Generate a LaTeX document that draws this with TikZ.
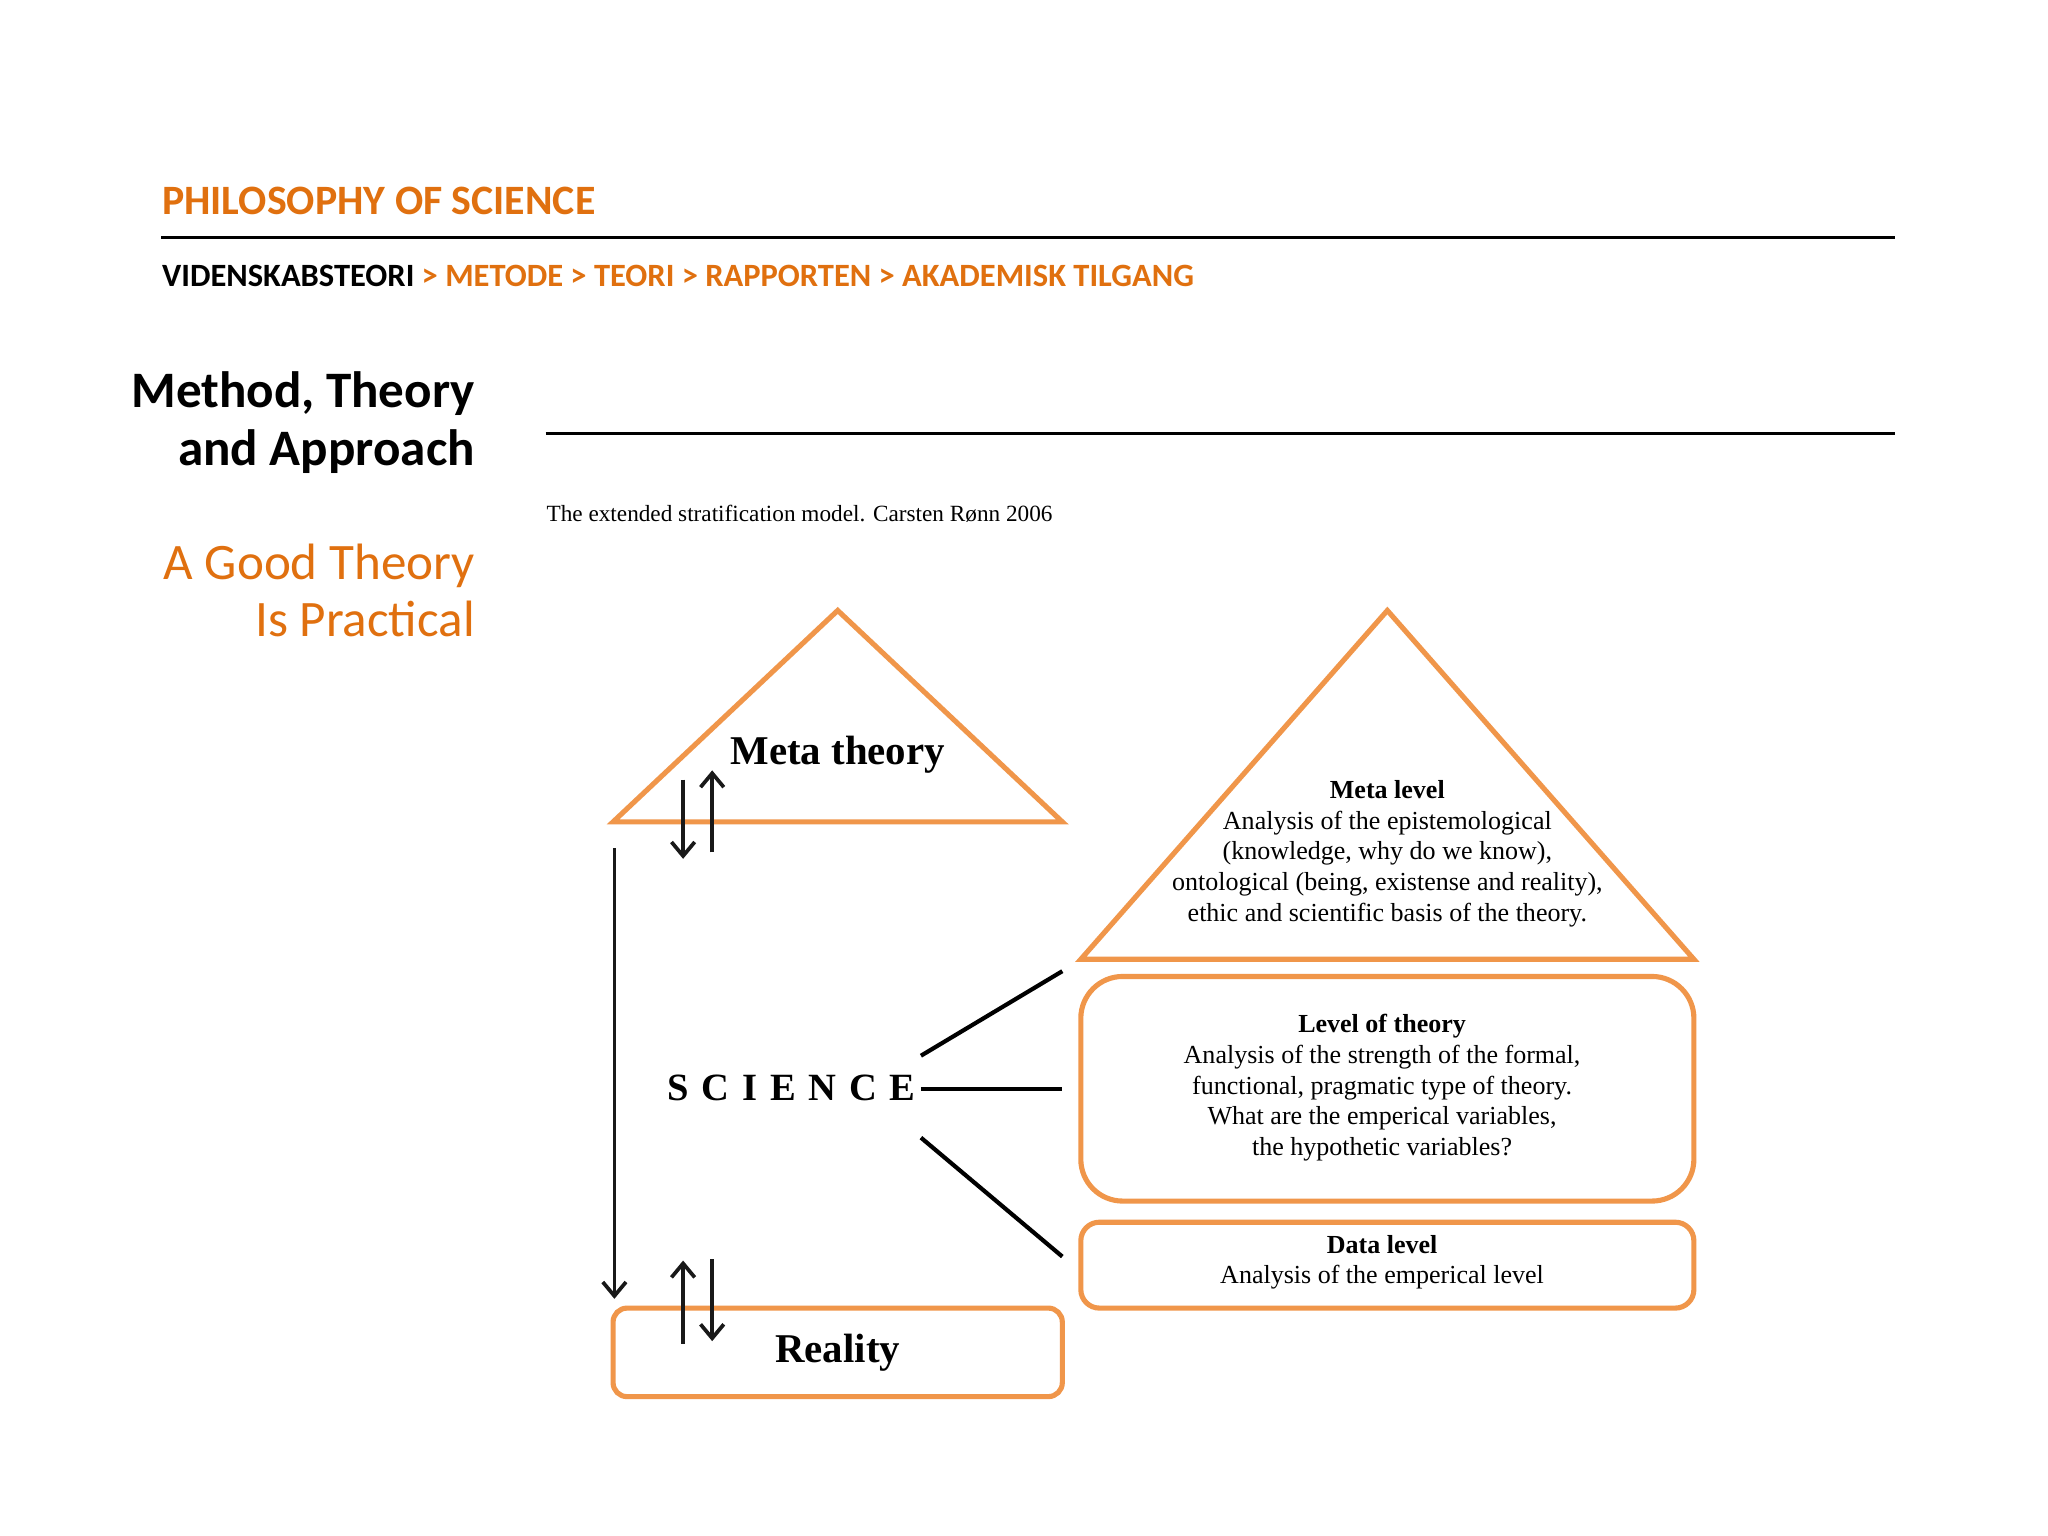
\documentclass[tikz,border=0pt]{standalone}
\usepackage{fontspec}
\usetikzlibrary{arrows.meta}
\setmainfont{Liberation Serif}
\newfontfamily\carlfont{Carlito}
\definecolor{otext}{HTML}{E0700F}
\definecolor{oline}{HTML}{F0964A}
\begin{document}
\begin{tikzpicture}[x=0.01cm,y=-0.01cm,
  shp/.style={draw=oline,line width=1.1pt,line join=miter},
  arr/.style={draw=black!90,line width=0.8pt,-{Straight Barb[length=3pt,width=5pt]}},
  conn/.style={draw=black,line width=0.9pt},
  body/.style={align=center,font=\fontsize{5.6}{6.6}\selectfont,inner sep=0pt}]
\useasboundingbox (0,0) rectangle (1550,1162);
\fill[white] (0,0) rectangle (1550,1162);
% header
\node[anchor=base west,inner sep=0,text=otext,font=\carlfont\bfseries\fontsize{9}{10}\selectfont] (title) at (122,162) {PHILOSOPHY OF SCIENCE};
\draw[line width=0.7pt] (122,180) -- (1434,180);
\node[anchor=base west,inner sep=0,font=\carlfont\bfseries\fontsize{7}{8}\selectfont] (crumb) at (122,217) {VIDENSKABSTEORI \textcolor{otext}{> METODE > TEORI > RAPPORTEN > AKADEMISK TILGANG}};
\draw[line width=0.7pt] (413,328) -- (1434,328);
\node[anchor=base east,inner sep=0,align=right,font=\carlfont\bfseries\fontsize{11}{12.4}\selectfont] (mta) at (360,352) {Method, Theory\\and Approach};
\node[anchor=base east,inner sep=0,align=right,text=otext,font=\carlfont\fontsize{11}{12.4}\selectfont] (gt) at (360,482) {A Good Theory\\Is Practical};
\node[anchor=base west,inner sep=0,font=\fontsize{5}{6}\selectfont] (cap) at (413,395) {The extended stratification model. Carsten Rønn 2006};
% left triangle
\draw[shp] (634,462) -- (804,622) -- (464,622) -- cycle;
\node[font=\bfseries\fontsize{8.8}{10}\selectfont,inner sep=0] (meta) at (634,571) {Meta theory};
% reality
\draw[shp,rounded corners=3pt] (464,990) rectangle (804,1057);
\node[font=\bfseries\fontsize{8.8}{10}\selectfont,inner sep=0] (real) at (634,1024) {Reality};
% arrows
\draw[arr] (539,645) -- (539,583);
\draw[arr] (517,590) -- (517,650);
\draw[arr] (465,642) -- (465,983);
\draw[arr] (517,1017) -- (517,954);
\draw[arr] (539,953) -- (539,1015);
% science
\node[font=\bfseries\fontsize{8.3}{10}\selectfont,inner sep=0] (sci) at (599,823) {S\,\,C\,\,I\,\,E\,\,N\,\,C\,\,E};
\coordinate (s1) at (697,799); \coordinate (e1) at (804,735);
\coordinate (s2) at (697,824); \coordinate (e2) at (804,824);
\coordinate (s3) at (697,861); \coordinate (e3) at (804,951);
\draw[conn] (s1) -- (e1);
\draw[conn] (s2) -- (e2);
\draw[conn] (s3) -- (e3);
% right triangle
\draw[shp] (1050,462) -- (1282,726) -- (818,726) -- cycle;
\node[body,anchor=north] (ml) at (1050,590) {\textbf{Meta level}\\Analysis of the epistemological\\(knowledge, why do we know),\\ontological (being, existense and reality),\\ethic and scientific basis of the theory.};
\draw[shp,rounded corners=9pt] (818,739) rectangle (1282,909);
\node[body,anchor=north] (lt) at (1046,767) {\textbf{Level of theory}\\Analysis of the strength of the formal,\\functional, pragmatic type of theory.\\What are the emperical variables,\\the hypothetic variables?};
\draw[shp,rounded corners=4pt] (818,925) rectangle (1282,990);
\node[body,anchor=north] (dl) at (1046,934) {\textbf{Data level}\\Analysis of the emperical level};
\end{tikzpicture}
\end{document}
